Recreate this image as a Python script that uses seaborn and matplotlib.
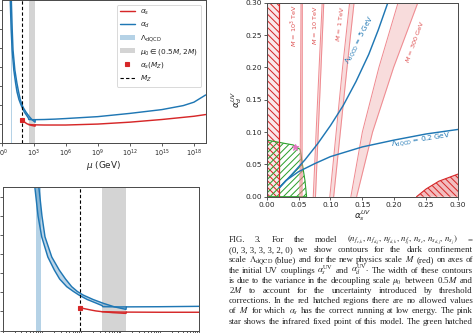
import numpy as np
import matplotlib
matplotlib.use("Agg")
import matplotlib.pyplot as plt
from matplotlib.lines import Line2D
from matplotlib.patches import Patch, Polygon
from matplotlib.ticker import LogLocator, LogFormatterSciNotation, NullLocator, NullFormatter
import seaborn as sns

sns.set_style("ticks")
plt.rcParams["font.family"] = ["DejaVu Sans"]
plt.rcParams["mathtext.fontset"] = "dejavusans"
plt.rcParams["hatch.linewidth"] = 0.9

# ---------------- data: running couplings (log10 mu [GeV], alpha) ----------------
M_Z = 91.19
alpha_s_MZ = 0.120
lambda_band = [7.1, 9.3]          # GeV
mu0_band = [340.0, 1400.0]        # GeV  (0.5M, 2M)

ad_upper_logmu = [0.80, 0.823, 0.90, 0.993, 1.15, 1.315, 1.45, 1.63, 1.80, 1.943, 2.15, 2.39, 2.53, 2.55,
                  3.0, 4.0, 5.0, 6.0, 9.0, 12.0, 15.0, 17.0, 18.0, 19.1]
ad_upper = [0.80, 0.743, 0.60, 0.491, 0.385, 0.317, 0.27, 0.23, 0.205, 0.186, 0.163, 0.143, 0.131, 0.125,
            0.124, 0.125, 0.127, 0.130, 0.140, 0.157, 0.177, 0.198, 0.216, 0.254]
ad_lower_logmu = [0.90, 0.925, 1.0, 1.077, 1.25, 1.44, 1.6, 1.757, 1.9, 2.05, 2.3, 2.56, 2.85, 3.14, 3.15]
ad_lower = [0.80, 0.743, 0.60, 0.491, 0.385, 0.317, 0.27, 0.23, 0.205, 0.186, 0.163, 0.143, 0.124, 0.111, 0.124]

as_upper_logmu = [1.96, 2.1, 2.24, 2.37, 2.53, 3.0, 4.0, 5.0, 6.0, 9.0, 12.0, 15.0, 18.0, 19.1]
as_upper = [0.120, 0.114, 0.108, 0.103, 0.099, 0.097, 0.096, 0.096, 0.096, 0.101, 0.111, 0.125, 0.142, 0.151]
as_lower_logmu = [2.53, 2.8, 3.14, 3.15]
as_lower = [0.099, 0.094, 0.090, 0.097]

# ---------------- data: UV coupling plane ----------------
band_y = [0.0, 0.1, 0.2, 0.3]
M_bands = {
    r"$M$ = 10$^3$ TeV": ([0.0522, 0.0528, 0.0533, 0.0538], [0.0553, 0.0555, 0.0557, 0.0558]),
    r"$M$ = 10 TeV": ([0.073, 0.0775, 0.0822, 0.087], [0.0765, 0.0808, 0.0852, 0.0895]),
    r"$M$ = 1 TeV": ([0.099, 0.109, 0.119, 0.130], [0.105, 0.1155, 0.126, 0.137]),
    r"$M$ = 300 GeV": ([0.132, 0.150, 0.176, 0.206], [0.141, 0.166, 0.199, 0.237]),
}
M_label_pos = {
    r"$M$ = 10$^3$ TeV": (0.044, 0.265, 90),
    r"$M$ = 10 TeV": (0.0757, 0.265, 90),
    r"$M$ = 1 TeV": (0.115, 0.268, 83),
    r"$M$ = 300 GeV": (0.232, 0.240, 70),
}
lam5_x = [0.020, 0.04, 0.06, 0.08, 0.10, 0.12, 0.14, 0.16, 0.175, 0.190]
lam5_y = [0.014, 0.035, 0.057, 0.082, 0.110, 0.141, 0.178, 0.220, 0.258, 0.300]
lam02_x = [0.020, 0.03, 0.05, 0.075, 0.10, 0.15, 0.20, 0.25, 0.30]
lam02_y = [0.014, 0.025, 0.0387, 0.051, 0.062, 0.077, 0.0876, 0.097, 0.104]
strip_x = [0.0, 0.02]
green_x = [0.0, 0.0, 0.0417, 0.0470, 0.0525, 0.0560, 0.0600, 0.0626]
green_y = [0.0, 0.0876, 0.0800, 0.0765, 0.0732, 0.050, 0.025, 0.0]
corner_x = [0.235, 0.25, 0.27, 0.30]
corner_y = [0.0, 0.012, 0.024, 0.035]
star = (0.0444, 0.0773)

caption_lines = [
    r"FIG. 3. For the model $(n_{f_{c,k}},\,n_{f_{d,j}},\,n_{f_{d,k}},\,n_{f_j},\,n_{s_c},\,n_{s_{d,j}},\,n_{s_j})$ =",
    r"(0,~3,~3,~3,~3,~2,~0) we show contours for the dark confinement",
    r"scale $\Lambda_{\mathrm{dQCD}}$ (blue) and for the new physics scale $M$ (red) on axes of",
    r"the initial UV couplings $\alpha_s^{\mathrm{UV}}$ and $\alpha_d^{\mathrm{UV}}$. The width of these contours",
    r"is due to the variance in the decoupling scale $\mu_0$ between 0.5$M$ and",
    r"2$M$ to account for the uncertainty introduced by threshold",
    r"corrections. In the red hatched regions there are no allowed values",
    r"of $M$ for which $\alpha_s$ has the correct running at low energy. The pink",
    r"star shows the infrared fixed point of this model. The green hatched",
]

# ---------------- figure ----------------
DPI = 80
W, H = 474, 333
fig = plt.figure(figsize=(W / DPI, H / DPI), dpi=DPI)
RED = "#d62728"
BLUE = "#1f77b4"
SPINE = "0.3"


def box(l, t, r, b):
    return [l / W, 1 - b / H, (r - l) / W, (b - t) / H]


def line(ax, x, y, **kw):
    sns.lineplot(x=np.asarray(x, float), y=np.asarray(y, float), ax=ax, sort=False,
                 estimator=None, legend=False, **kw)


def style(ax):
    for s in ax.spines.values():
        s.set_color(SPINE)
        s.set_linewidth(0.9)
    ax.tick_params(which="both", direction="out", color=SPINE, width=0.8)
    ax.tick_params(which="major", length=3)
    ax.tick_params(which="minor", length=1.8)


def running(ax):
    ax.set_xscale("log")
    ax.axvspan(*lambda_band, color=BLUE, alpha=0.33, lw=0)
    ax.axvspan(*mu0_band, color="#d4d4d4", lw=0)
    mu_up = 10 ** np.array(ad_upper_logmu)
    mu_lo = 10 ** np.array(ad_lower_logmu)
    keep = np.array(ad_upper_logmu) <= 3.14
    ax.fill(np.concatenate([mu_up[keep], mu_lo[::-1]]),
            np.concatenate([np.array(ad_upper)[keep], np.array(ad_lower)[::-1]]),
            color=BLUE, alpha=0.3, lw=0)
    line(ax, mu_up, ad_upper, color=BLUE, lw=1.3)
    line(ax, mu_lo, ad_lower, color=BLUE, lw=1.3)
    line(ax, 10 ** np.array(as_upper_logmu), as_upper, color=RED, lw=1.3)
    line(ax, 10 ** np.array(as_lower_logmu), as_lower, color=RED, lw=1.3)
    ax.axvline(M_Z, color="k", ls="--", lw=1.0, dashes=(3, 2))
    ax.plot([M_Z], [alpha_s_MZ], "s", color=RED, ms=3.6)
    ax.set_ylim(0, 0.75)
    ax.set_yticks(np.arange(0, 0.8, 0.1))
    ax.set_ylabel("")
    style(ax)


# top-left panel
ax1 = fig.add_axes(box(1.5, 0.5, 205.7, 143.3))
running(ax1)
ax1.set_xlim(1.0, 10 ** 19.1)
ax1.set_xticks([10.0 ** k for k in range(0, 19, 3)])
ax1.xaxis.set_major_formatter(LogFormatterSciNotation())
ax1.xaxis.set_minor_locator(NullLocator())
ax1.tick_params(axis="x", labelsize=5.9, pad=1.2)
ax1.set_xlabel(r"$\mu$ (GeV)", fontsize=8, labelpad=0)
handles = [
    Line2D([], [], color=RED, lw=1.3),
    Line2D([], [], color=BLUE, lw=1.3),
    Patch(facecolor=BLUE, alpha=0.33, lw=0),
    Patch(facecolor="#d4d4d4", lw=0),
    Line2D([], [], color=RED, marker="s", ls="none", ms=3.6),
    Line2D([], [], color="k", ls="--", lw=1.0, dashes=(3, 2)),
]
labels = [r"$\alpha_s$", r"$\alpha_d$", r"$\Lambda_{\rm dQCD}$", r"$\mu_0 \in (0.5M, 2M)$",
          r"$\alpha_s(M_Z)$", r"$M_Z$"]
leg = ax1.legend(handles, labels, loc="upper right", bbox_to_anchor=(0.977, 0.968),
                 borderaxespad=0, fontsize=6.6, frameon=True, handlelength=2.0,
                 labelspacing=0.45, borderpad=0.4, handletextpad=0.8)
leg.get_frame().set_edgecolor("0.8")
leg.get_frame().set_linewidth(0.8)

# bottom-left panel
ax2 = fig.add_axes(box(2.7, 187.3, 199.0, 330.6))
running(ax2)
ax2.set_xlim(1.0, 1e5)
ax2.xaxis.set_major_locator(LogLocator(base=10, numticks=10))
ax2.xaxis.set_minor_locator(LogLocator(base=10, subs=np.arange(2, 10), numticks=10))
ax2.xaxis.set_minor_formatter(NullFormatter())
ax2.tick_params(axis="x", labelsize=5.9)

# right panel
ax3 = fig.add_axes(box(266.7, 2.7, 458.0, 196.7))
ax3.set_xlim(0, 0.3)
ax3.set_ylim(0, 0.3)
ax3.add_patch(Polygon([[strip_x[0], 0], [strip_x[1], 0], [strip_x[1], 0.3], [strip_x[0], 0.3]],
                      closed=True, facecolor=(0.84, 0.15, 0.16, 0.10), edgecolor=RED,
                      hatch="\\\\\\\\", lw=0))
ax3.axvline(strip_x[1], color=RED, lw=1.1)
ax3.add_patch(Polygon(np.column_stack([green_x, green_y]), closed=True, facecolor="none",
                      edgecolor="#2ca02c", hatch="////", lw=1.0))
for lab, (xl, xr) in M_bands.items():
    ax3.fill_betweenx(band_y, xl, xr, color=RED, alpha=0.16, lw=0)
    line(ax3, xl, band_y, color="#ef8a90", lw=0.9)
    line(ax3, xr, band_y, color="#ef8a90", lw=0.9)
    tx, ty, rot = M_label_pos[lab]
    ax3.text(tx, ty, lab, color=RED, alpha=0.8, fontsize=5.8, rotation=rot,
             ha="center", va="center", rotation_mode="anchor")
cx = list(corner_x) + [0.30]
cy = list(corner_y) + [0.0]
ax3.add_patch(Polygon(np.column_stack([cx, cy]), closed=True, facecolor=(0.84, 0.15, 0.16, 0.30),
                      edgecolor=RED, hatch="\\\\\\\\", lw=0))
line(ax3, corner_x, corner_y, color=RED, lw=1.0)
line(ax3, lam5_x, lam5_y, color=BLUE, lw=1.3)
line(ax3, lam02_x, lam02_y, color=BLUE, lw=1.3)
ax3.text(0.146, 0.243, r"$\Lambda_{\rm dQCD}$ = 5 GeV", color=BLUE, fontsize=6.4, rotation=62,
         ha="center", va="center", rotation_mode="anchor")
ax3.text(0.241, 0.087, r"$\Lambda_{\rm dQCD}$ = 0.2 GeV", color=BLUE, fontsize=6.4, rotation=9,
         ha="center", va="center", rotation_mode="anchor")
ax3.plot([star[0]], [star[1]], marker="*", color="#e377c2", ms=6, ls="none")
ticks = np.arange(0, 0.301, 0.05)
ax3.set_xticks(ticks)
ax3.set_yticks(ticks)
ax3.set_xticklabels([f"{v:.2f}" for v in ticks])
ax3.set_yticklabels([f"{v:.2f}" for v in ticks])
ax3.tick_params(labelsize=6.7, pad=1.5)
style(ax3)
ax3.set_xlabel(r"$\alpha_s^{UV}$", fontsize=8, labelpad=0)
ax3.set_ylabel(r"$\alpha_d^{UV}$", fontsize=8, labelpad=1)

# caption, justified
renderer = fig.canvas.get_renderer()
x0, x1 = 228.7, 472.7
base0, step = 242.0, 10.2


def make_words(ln, fs):
    words = [w.replace("~", " ") for w in ln.split(" ")]
    ts = [fig.text(0, 0, w, fontsize=fs, family="Liberation Serif", math_fontfamily="stix",
                   va="baseline", ha="left", color="#222222") for w in words]
    return ts, [t.get_window_extent(renderer=renderer).width for t in ts]


probe = 10.0
need = []
for i, ln in enumerate(caption_lines):
    ts, ws = make_words(ln, probe)
    need.append(sum(ws) + (len(ws) - 1) * 0.25 * probe * DPI / 72)
    for t in ts:
        t.remove()
full = [need[i] for i in (2, 3, 4, 6, 7, 8)]
cap_fs = probe * (x1 - x0) / max(full)

for i, ln in enumerate(caption_lines):
    ts, ws = make_words(ln, cap_fs)
    gap = (x1 - x0 - sum(ws)) / max(len(ws) - 1, 1)
    x = x0
    yb = 1 - (base0 + i * step) / H
    for t, wd in zip(ts, ws):
        t.set_position((x / W, yb))
        x += wd + gap

fig.savefig("out.png", dpi=DPI)
